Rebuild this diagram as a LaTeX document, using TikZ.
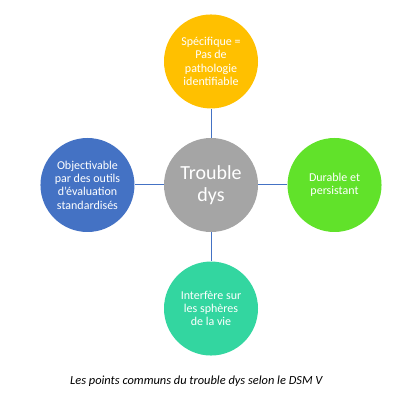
\documentclass[tikz,border=0pt]{standalone}
\usepackage{fontspec}
\setmainfont{Carlito}
\usepackage{xcolor}
\definecolor{dysgray}{RGB}{165,165,165}
\definecolor{dysyellow}{RGB}{255,192,0}
\definecolor{dysblue}{RGB}{68,114,196}
\definecolor{dysgreen}{RGB}{97,226,42}
\definecolor{dysteal}{RGB}{51,214,160}
\usetikzlibrary{positioning}

\begin{document}
\begin{tikzpicture}[
  bubble/.style={circle, fill=#1, text=white, minimum size=70.5pt, inner sep=1pt,
               align=center, font=\fontsize{9}{10}\selectfont},
  link/.style={draw=dysblue, line width=0.75pt},
  node distance=21.75pt
]
\useasboundingbox (-158.25pt,-174pt) rectangle (141.75pt,138.75pt);

\node[bubble=dysgray, font=\fontsize{15}{16.5}\selectfont] (dys) at (0,0) {Trouble\\dys};
\node[bubble=dysyellow, above=of dys] (spec) {Spécifique =\\Pas de\\pathologie\\identifiable};
\node[bubble=dysblue, left=of dys] (objec) {Objectivable\\par des outils\\d'évaluation\\standardisés};
\node[bubble=dysgreen, right=of dys] (durab) {Durable et\\persistant};
\node[bubble=dysteal, below=of dys] (inter) {Interfère sur\\les sphères\\de la vie};

\node[font=\fontsize{9.3}{11}\selectfont\itshape] (caption) at (-11pt,-147pt)
  {Les points communs du trouble dys selon le DSM V};

\draw[link] (dys)--(spec); \draw[link] (dys)--(objec);
\draw[link] (dys)--(durab); \draw[link] (dys)--(inter);
\end{tikzpicture}
\end{document}
